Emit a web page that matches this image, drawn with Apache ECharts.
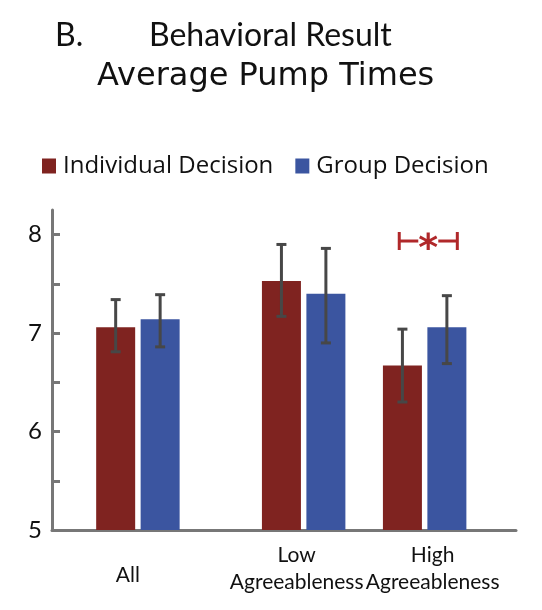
<!DOCTYPE html>
<html>
<head>
<meta charset="utf-8">
<script src="https://cdn.jsdelivr.net/npm/echarts@6/dist/echarts.min.js"></script>
<style>
  html, body { margin: 0; padding: 0; background: #fff; }
  #chart { width: 542px; height: 610px; }
</style>
</head>
<body>
<div id="chart"></div>
<script>
// group names and where they sit on the x axis (uneven gaps in the original)
var groups = ['All', 'Low\nAgreeableness', 'High\nAgreeableness'];
var groupPos = [1, 2.37, 3.37];

// mean pump times
var individual = [7.06, 7.53, 6.67];
var groupDec = [7.14, 7.40, 7.06];

// error bar ends
var individualLow = [6.81, 7.17, 6.30];
var individualHigh = [7.34, 7.90, 7.04];
var groupLow = [6.86, 6.90, 6.69];
var groupHigh = [7.39, 7.86, 7.38];

// significance bracket over the high agreeableness pair
var sigFrom = [3.16];
var sigTo = [3.64];
var sigY = [7.935];

var yTicks = [5, 6, 7, 8];
var yMinorTicks = [5, 5.5, 6, 6.5, 7, 7.5, 8];

var RED = '#7f2320';
var BLUE = '#3b55a0';
var BAR_W = 39;
var BAR_GAP = '14%';

function chart() {
    var myChart = echarts.init(document.getElementById('chart'));

    var offset = (BAR_W + BAR_W * 0.14) / 2;

    function errorSeries(name, low, high, shift) {
        return {
            name: name + ' err',
            type: 'custom',
            z: 5,
            data: groupPos.map(function (x, i) { return [x, low[i], high[i]]; }),
            renderItem: function (params, api) {
                var lo = api.coord([api.value(0), api.value(1)]);
                var hi = api.coord([api.value(0), api.value(2)]);
                var cx = lo[0] + shift;
                var style = { stroke: '#474747', lineWidth: 3 };
                return {
                    type: 'group',
                    children: [
                        { type: 'line', shape: { x1: cx, y1: lo[1], x2: cx, y2: hi[1] }, style: style },
                        { type: 'line', shape: { x1: cx - 5, y1: lo[1], x2: cx + 5, y2: lo[1] }, style: style },
                        { type: 'line', shape: { x1: cx - 5, y1: hi[1], x2: cx + 5, y2: hi[1] }, style: style }
                    ]
                };
            }
        };
    }

    function groupIndex(v) {
        for (var i = 0; i < groupPos.length; i++) {
            if (Math.abs(groupPos[i] - v) < 1e-6) return i;
        }
        return -1;
    }

    var labelFont = { fontFamily: 'Lato', fontSize: 21, color: '#111', lineHeight: 27, align: 'center' };
    var titleFont = { fontFamily: 'Lato', fontSize: 32, fontWeight: 'normal', color: '#111' };

    var option = {
        animation: false,
        title: [
            { text: 'B.', left: 55, top: 20, padding: 0, textStyle: titleFont },
            { text: 'Behavioral Result', left: 149, top: 20, padding: 0, textStyle: titleFont },
            { text: 'Average Pump Times', left: 97, top: 61, padding: 0,
              textStyle: { fontFamily: 'DejaVu Sans', fontSize: 32, fontWeight: 'normal', color: '#111' } }
        ],
        legend: {
            left: 37,
            top: 149,
            icon: 'rect',
            itemWidth: 14,
            itemHeight: 15,
            itemGap: 22,
            data: ['Individual Decision', 'Group Decision'],
            textStyle: { fontFamily: 'Open Sans', fontSize: 24, color: '#111', padding: [0, 0, 0, 2] }
        },
        grid: {
            left: 52,
            right: 26,
            top: 210,
            bottom: 80
        },
        xAxis: {
            type: 'value',
            min: 0.29,
            max: 4.125,
            splitLine: { show: false },
            axisLine: { show: true, onZero: false, lineStyle: { color: '#777', width: 3 } },
            axisTick: { show: false },
            axisLabel: {
                customValues: groupPos,
                hideOverlap: false,
                margin: 12,
                fontFamily: 'Lato',
                fontSize: 21,
                color: '#111',
                lineHeight: 27,
                formatter: function (v) {
                    var i = groupIndex(v);
                    if (i < 0) return '';
                    var key = ['c0', 'c1', 'c2'][i];
                    return groups[i].split('\n').map(function (s) { return '{' + key + '|' + s + '}'; }).join('\n');
                },
                rich: {
                    c0: Object.assign({ width: 60, padding: [40, 20, 0, 0] }, labelFont),
                    c1: Object.assign({ width: 90, padding: [0, 14, 0, 0] }, labelFont),
                    c2: Object.assign({ width: 88, padding: [0, 0, 0, 16] }, labelFont)
                }
            }
        },
        yAxis: {
            type: 'value',
            min: 5,
            max: 8.25,
            splitLine: { show: false },
            axisLine: { show: true, lineStyle: { color: '#777', width: 3 } },
            axisTick: {
                show: true,
                inside: true,
                length: 8,
                customValues: yMinorTicks,
                lineStyle: { color: '#777', width: 3 }
            },
            axisLabel: {
                customValues: yTicks,
                margin: 10,
                fontFamily: 'Lato',
                fontSize: 24,
                color: '#111'
            }
        },
        series: [
            {
                name: 'Individual Decision',
                type: 'bar',
                barWidth: BAR_W,
                barGap: BAR_GAP,
                itemStyle: { color: RED },
                data: groupPos.map(function (x, i) { return [x, individual[i]]; })
            },
            {
                name: 'Group Decision',
                type: 'bar',
                barWidth: BAR_W,
                barGap: BAR_GAP,
                itemStyle: { color: BLUE },
                data: groupPos.map(function (x, i) { return [x, groupDec[i]]; })
            },
            errorSeries('Individual Decision', individualLow, individualHigh, -offset),
            errorSeries('Group Decision', groupLow, groupHigh, offset),
            {
                name: 'sig',
                type: 'custom',
                z: 6,
                data: sigFrom.map(function (x, i) { return [x, sigTo[i], sigY[i]]; }),
                renderItem: function (params, api) {
                    var a = api.coord([api.value(0), api.value(2)]);
                    var b = api.coord([api.value(1), api.value(2)]);
                    var mid = (a[0] + b[0]) / 2;
                    var style = { stroke: '#b0282a', lineWidth: 3 };
                    return {
                        type: 'group',
                        children: [
                            { type: 'line', shape: { x1: a[0], y1: a[1] - 9, x2: a[0], y2: a[1] + 9 }, style: style },
                            { type: 'line', shape: { x1: a[0], y1: a[1], x2: mid - 10, y2: a[1] }, style: style },
                            { type: 'line', shape: { x1: b[0], y1: b[1] - 9, x2: b[0], y2: b[1] + 9 }, style: style },
                            { type: 'line', shape: { x1: mid + 10, y1: b[1], x2: b[0], y2: b[1] }, style: style },
                            {
                                type: 'text',
                                x: mid,
                                y: a[1] + 9,
                                style: {
                                    text: '*',
                                    fill: '#b0282a',
                                    font: 'bold 38px DejaVu Sans',
                                    align: 'center',
                                    verticalAlign: 'middle'
                                }
                            }
                        ]
                    };
                }
            }
        ]
    };

    myChart.setOption(option);

    window.addEventListener('resize', function () {
        myChart.resize();
    });
}

chart();
</script>
</body>
</html>
